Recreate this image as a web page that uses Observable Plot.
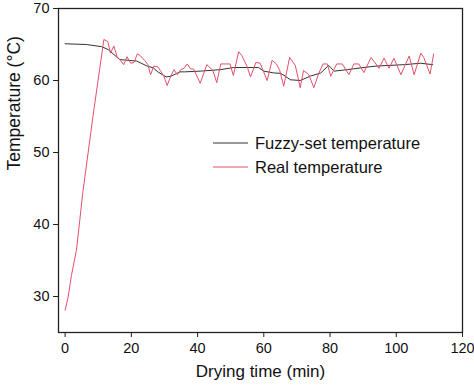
<!DOCTYPE html>
<html>
<head>
<meta charset="utf-8">
<script src="https://cdn.jsdelivr.net/npm/d3@7"></script>
<script src="https://cdn.jsdelivr.net/npm/@observablehq/plot@0.6"></script>
<style>
  html, body { margin: 0; padding: 0; background: #fff; }
  #chart { position: relative; width: 474px; height: 385px; font-family: "Liberation Sans", Arial, sans-serif; }
  #legend { position: absolute; left: 213px; top: 131px; font-size: 16.5px; color: #111; line-height: 24px; }
  #legend .row { display: flex; align-items: center; }
  #legend svg { margin-right: 7px; }
</style>
</head>
<body>
<div id="chart"></div>
<script>
// Real temperature (min, °C)
const realTime = [0, 0.9, 1.9, 3.4, 4.4, 5.3, 8.4, 11.7, 12.9, 13.7, 14.7, 15.7, 16.7, 17.7, 18.7, 19.8, 20.8, 21.8, 22.8, 24.0, 25.0, 25.8, 26.8, 28.0, 29.0, 29.8, 30.8, 31.9, 32.9, 33.9, 34.9, 35.9, 36.9, 37.9, 38.8, 40.8, 42.8, 44.6, 45.8, 47.0, 49.8, 50.8, 52.4, 53.3, 54.9, 56.0, 57.6, 58.9, 61.0, 62.5, 63.8, 64.8, 66.0, 67.8, 69.5, 71.0, 72.0, 73.6, 75.1, 76.6, 77.9, 79.2, 80.2, 82.0, 83.7, 85.7, 87.2, 88.7, 90.2, 92.4, 94.8, 96.3, 97.8, 99.3, 101.4, 103.9, 105.4, 107.4, 108.3, 110.2, 111.3];
const realTemp = [28.1, 29.9, 32.9, 36.4, 40.5, 44.3, 55.0, 65.7, 65.4, 63.8, 64.8, 63.3, 62.8, 62.2, 63.3, 62.4, 62.5, 63.7, 63.4, 62.8, 62.2, 60.8, 62.0, 61.9, 61.2, 60.6, 59.3, 60.6, 61.5, 60.8, 61.5, 61.7, 62.3, 61.6, 61.6, 59.6, 62.2, 61.4, 59.7, 62.3, 62.3, 60.7, 64.0, 63.5, 62.0, 60.5, 62.5, 62.4, 60.0, 62.8, 62.3, 61.4, 59.2, 63.2, 62.1, 59.0, 61.4, 60.8, 59.0, 61.0, 62.3, 62.3, 60.6, 62.3, 62.3, 60.8, 62.3, 62.3, 61.1, 63.2, 61.7, 63.1, 61.7, 63.1, 60.8, 63.4, 60.8, 63.8, 63.2, 60.9, 63.7];

// Fuzzy-set temperature (min, °C)
const fuzzyTime = [0, 6.4, 11.0, 13.0, 16.5, 18.0, 21.6, 24.8, 26.6, 28.0, 30.5, 32.0, 34.7, 36.0, 40.8, 46.8, 50.8, 58.4, 60.0, 63.0, 65.0, 66.5, 68.0, 71.0, 74.0, 77.2, 79.6, 81.2, 85.2, 89.2, 93.8, 102.4, 107.4, 111.0];
const fuzzyTemp = [65.1, 65.0, 64.7, 64.3, 62.9, 62.85, 62.7, 62.0, 61.75, 61.2, 60.5, 60.6, 61.2, 61.2, 61.3, 61.5, 61.8, 61.8, 61.3, 61.05, 61.0, 60.6, 60.1, 60.0, 60.6, 61.05, 62.1, 61.3, 61.5, 61.75, 62.0, 62.2, 62.4, 62.2];

const xTicks = [0, 20, 40, 60, 80, 100, 120];
const yTicks = [30, 40, 50, 60, 70];
const seriesNames = ["Fuzzy-set temperature", "Real temperature"];
const seriesColors = ["#333333", "#e2506a"];

const real = realTime.map((t, i) => ({t, v: realTemp[i]}));
const fuzzy = fuzzyTime.map((t, i) => ({t, v: fuzzyTemp[i]}));

const plot = Plot.plot({
  width: 474,
  height: 385,
  marginLeft: 58,
  marginRight: 12,
  marginTop: 8,
  marginBottom: 53,
  style: { fontFamily: "'Liberation Sans', Arial, sans-serif", color: "#111", background: "#fff", overflow: "visible" },
  x: { domain: [-2, 120] },
  y: { domain: [25, 70] },
  marks: [
    Plot.axisX({ ticks: xTicks, tickSize: 5, tickPadding: 5, fontSize: 14.5, label: null, stroke: "#222" }),
    Plot.axisY({ ticks: yTicks, tickSize: 5, tickPadding: 4, fontSize: 14.5, label: null, stroke: "#222" }),
    Plot.text(["Drying time (min)"], { frameAnchor: "bottom", dy: 39, fontSize: 17, fill: "#111", lineAnchor: "middle" }),
    Plot.text(["Temperature (°C)"], { frameAnchor: "left", dx: -44, rotate: -90, fontSize: 17.5, fill: "#111", lineAnchor: "middle" }),
    Plot.line(fuzzy, { x: "t", y: "v", stroke: seriesColors[0], strokeWidth: 1 }),
    Plot.line(real, { x: "t", y: "v", stroke: seriesColors[1], strokeWidth: 1 }),
    Plot.frame({ stroke: "#222", strokeWidth: 1.3 })
  ]
});

const chart = document.getElementById("chart");
chart.appendChild(plot);

const legend = document.createElement("div");
legend.id = "legend";
seriesNames.forEach((name, i) => {
  const row = document.createElement("div");
  row.className = "row";
  row.innerHTML = `<svg width="35" height="4"><line x1="0" x2="35" y1="2" y2="2" stroke="${seriesColors[i]}" stroke-width="1.2"/></svg><span>${name}</span>`;
  legend.appendChild(row);
});
chart.appendChild(legend);
</script>
</body>
</html>
